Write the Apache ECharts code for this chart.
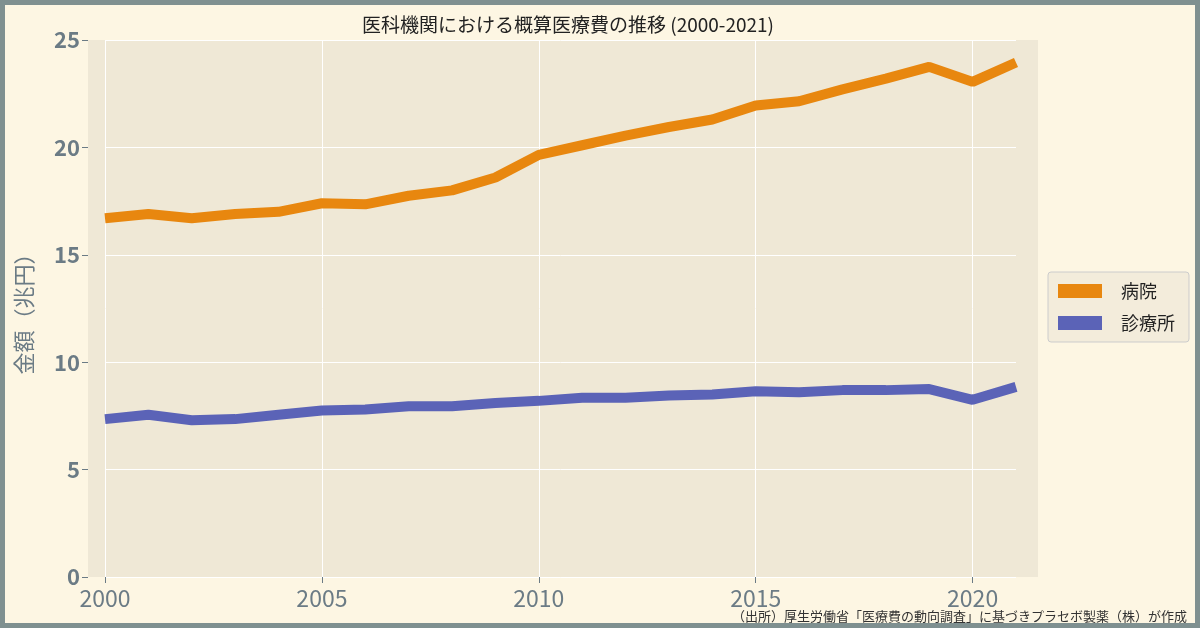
<!DOCTYPE html>
<html><head><meta charset="utf-8">
<script src="https://cdn.jsdelivr.net/npm/echarts@6/dist/echarts.min.js"></script>
<style>html,body{margin:0;padding:0;background:#7f9090;}#c{width:1190px;height:618px;margin:5px;background:#fdf6e3;}</style>
</head><body><div id="c"></div>
<script>
const years = ['2000','2001','2002','2003','2004','2005','2006','2007','2008','2009','2010','2011','2012','2013','2014','2015','2016','2017','2018','2019','2020','2021'];
const hospital = [16.7,16.9,16.7,16.9,17.0,17.4,17.35,17.75,18.0,18.6,19.65,20.1,20.55,20.95,21.3,21.95,22.15,22.7,23.2,23.75,23.05,23.95];
const clinic = [7.35,7.55,7.3,7.35,7.55,7.75,7.8,7.95,7.95,8.1,8.2,8.35,8.35,8.45,8.5,8.65,8.6,8.7,8.7,8.75,8.25,8.85];
const yTicks = [0,5,10,15,20,25];
const chart = echarts.init(document.getElementById('c'));
const FONT = '"Noto Sans CJK JP","Noto Sans",sans-serif';
chart.setOption({
  animation:false,
  textStyle:{fontFamily:FONT},
  title:{text:'医科機関における概算医療費の推移 (2000-2021)',left:558,top:5,textAlign:'center',textStyle:{fontSize:19,fontWeight:'normal',color:'#222',fontFamily:FONT}},
  graphic:[
    {type:'rect',z:-10,shape:{x:83,y:35,width:950,height:537},style:{fill:'#efe8d6'}},
    {type:'text',right:8,bottom:0,style:{text:'（出所）厚生労働省「医療費の動向調査」に基づきプラセボ製薬（株）が作成',fontSize:13,fill:'#333',fontFamily:FONT}}
  ],
  grid:{left:100,right:179,top:35,bottom:46},
  legend:{orient:'vertical',left:1043,top:267,padding:[10,14,10,10],itemGap:14,itemWidth:44,itemHeight:14,
    backgroundColor:'#f3ecdb',borderColor:'#ccc',borderWidth:1,borderRadius:3,
    textStyle:{fontSize:18,color:'#222',padding:[0,0,0,14]},
    data:[{name:'病院',icon:'rect'},{name:'診療所',icon:'rect'}]},
  xAxis:{type:'category',data:years,boundaryGap:false,
    axisLine:{show:false},axisTick:{show:true,interval:4,length:6,lineStyle:{color:'#6b7b85'}},
    axisLabel:{interval:4,fontSize:23,color:'#6b7b85',margin:10},
    splitLine:{show:true,interval:4,lineStyle:{color:'#ffffff',width:1}}},
  yAxis:{type:'value',min:0,max:25,interval:5,offset:17,
    name:'金額（兆円）',nameLocation:'middle',nameGap:53,nameTextStyle:{fontSize:22,color:'#6b7b85'},
    axisLine:{show:false},axisTick:{show:true,length:6,lineStyle:{color:'#6b7b85'}},
    axisLabel:{fontSize:22,fontWeight:'bold',color:'#6b7b85',formatter:v=>yTicks.includes(v)?String(v):''},
    splitLine:{lineStyle:{color:'#ffffff',width:1}}},
  series:[
    {name:'病院',type:'line',data:hospital,symbol:'none',lineStyle:{width:10,color:'#e8870f'},itemStyle:{color:'#e8870f'}},
    {name:'診療所',type:'line',data:clinic,symbol:'none',lineStyle:{width:10,color:'#5b63b7'},itemStyle:{color:'#5b63b7'}}
  ]
});
</script></body></html>
